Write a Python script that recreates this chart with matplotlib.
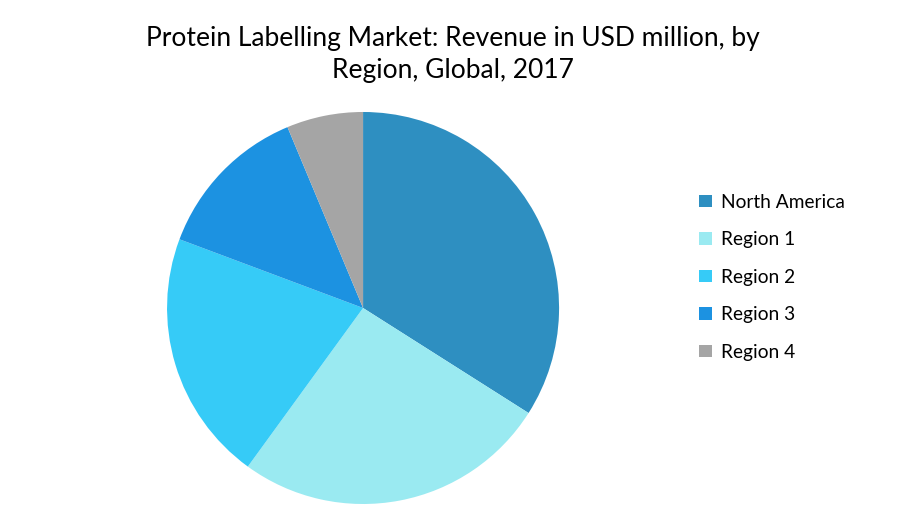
import matplotlib
matplotlib.use('Agg')
from matplotlib import pyplot as plt
from matplotlib.patches import Patch

regions = ['North America', 'Region 1', 'Region 2', 'Region 3', 'Region 4']
share = [34.0, 26.0, 20.7, 13.0, 6.3]
colors = ['#2E8FC1', '#9AEAF1', '#36CBF7', '#1C92E1', '#A5A5A5']

plt.rcParams['font.family'] = ['Lato', 'DejaVu Sans']

fig = plt.figure(figsize=(9, 5.25), dpi=100)
ax = fig.add_axes([0.1856, 0.04, 0.4356, 0.7467])

ax.pie(share, colors=colors, startangle=90, counterclock=False,
       radius=1.0, wedgeprops=dict(linewidth=0))
ax.set_xlim(-1, 1)
ax.set_ylim(-1, 1)
ax.set_aspect('equal')

fig.text(0.503, 0.896, 'Protein Labelling Market: Revenue in USD million, by\nRegion, Global, 2017',
         ha='center', va='center', fontsize=19, linespacing=1.38, color='#000000')

handles = [Patch(facecolor=c, edgecolor='none') for c in colors]
fig.legend(handles, regions, loc='center left', bbox_to_anchor=(0.758, 0.472),
           frameon=False, fontsize=13.8, handlelength=0.65, handleheight=0.65,
           handletextpad=0.45, labelspacing=1.07)

fig.savefig('out.png', dpi=100)
